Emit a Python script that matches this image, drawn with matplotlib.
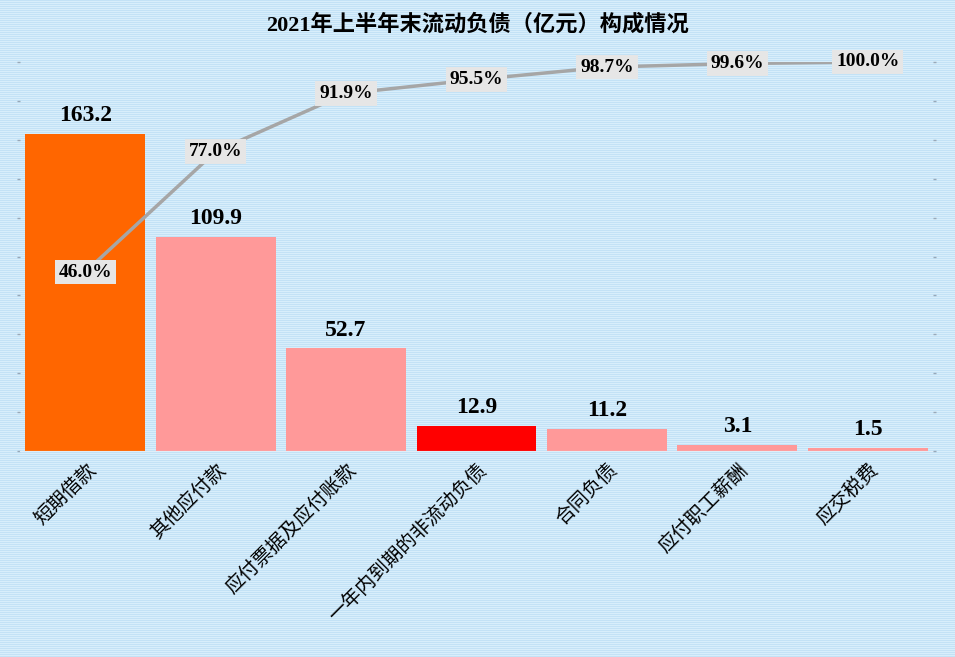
import numpy as np
import matplotlib.pyplot as plt

plt.rcParams['font.family'] = ['Liberation Serif', 'Noto Sans CJK SC']

# data
categories = ['短期借款', '其他应付款', '应付票据及应付账款', '一年内到期的非流动负债',
              '合同负债', '应付职工薪酬', '应交税费']
values = [163.2, 109.9, 52.7, 12.9, 11.2, 3.1, 1.5]
cum_pct = [46.0, 77.0, 91.9, 95.5, 98.7, 99.6, 100.0]
bar_colors = ['#FF6600', '#FF9999', '#FF9999', '#FF0000', '#FF9999', '#FF9999', '#FF9999']

W, H = 955, 657
fig = plt.figure(figsize=(W / 100, H / 100), dpi=100)

# striped light blue background
bg = np.zeros((H, W, 3))
bg[0::2] = np.array([0xc3, 0xe2, 0xf6]) / 255
bg[1::2] = np.array([0xd8, 0xee, 0xfb]) / 255
fig.figimage(bg, 0, 0, zorder=-10)

ax = fig.add_axes([20 / W, 1 - 451 / H, 913 / W, 389 / H])
ax.patch.set_alpha(0)
x = np.arange(len(categories))
bars = ax.bar(x, values, width=0.92, color=bar_colors, zorder=2)
ax.set_xlim(-0.5, len(categories) - 0.5)
ax.set_ylim(0, 200)
ax.set_yticks(np.arange(0, 201, 20))
ax.set_yticklabels([])
for s in ['top', 'right', 'left']:
    ax.spines[s].set_visible(False)
ax.spines['bottom'].set_color('#e0eef8')
ax.tick_params(axis='y', length=2, color='#98a8b8', width=1)
ax.tick_params(axis='x', length=0, pad=6)
ax.set_xticks(x)
ax.set_xticklabels(categories, rotation=45, ha='right', rotation_mode='anchor',
                   fontsize=14, family=['Noto Sans CJK SC'])

for xi, v in zip(x, values):
    ax.text(xi, v + 4, f'{v:.1f}', ha='center', va='bottom',
            fontsize=17, fontweight='bold', zorder=4)

ax2 = ax.twinx()
ax2.patch.set_alpha(0)
ax2.set_ylim(0, 100)
ax2.set_yticks(np.arange(0, 101, 10))
ax2.set_yticklabels([])
for s in ax2.spines.values():
    s.set_visible(False)
ax2.tick_params(axis='y', length=2, color='#98a8b8', width=1)
ax2.plot(x, cum_pct, color='#A6A6A6', linewidth=2.5, zorder=3)
for xi, p in zip(x, cum_pct):
    ax2.text(xi, p, f'{p:.1f}%', ha='center', va='center', fontsize=14,
             fontweight='bold', zorder=5,
             bbox=dict(boxstyle='square,pad=0.2', facecolor='#E6E6E6', edgecolor='none'))

fig.text(0.5, 1 - 25 / H, '2021年上半年末流动负债（亿元）构成情况', ha='center', va='center',
         fontsize=16, fontweight='bold')

fig.savefig('out.png', dpi=100)
